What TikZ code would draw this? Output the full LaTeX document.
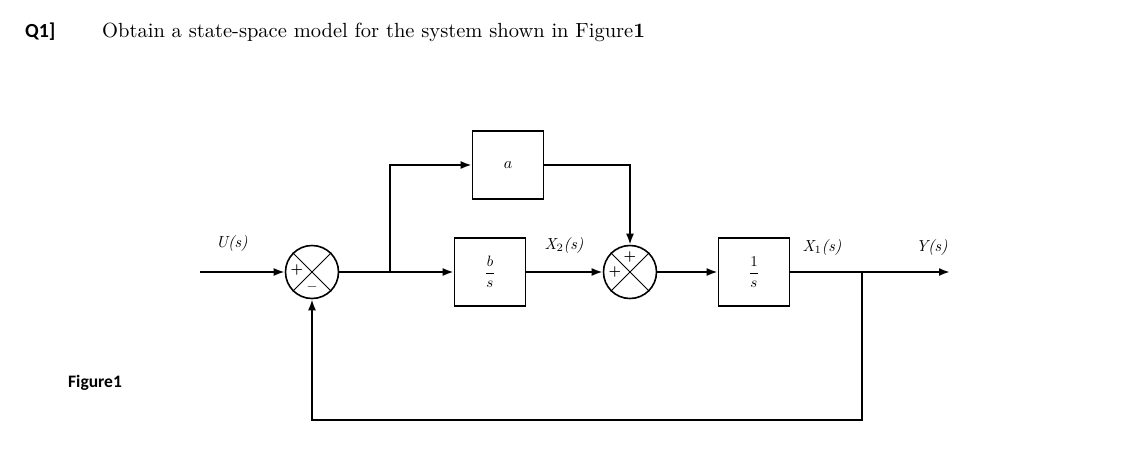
\documentclass[tikz,border=0pt]{standalone}
\usepackage{fontspec}
\newfontfamily\carlitofam{Carlito}
\usetikzlibrary{arrows.meta}
\begin{document}
\begin{tikzpicture}[x=1pt,y=-1pt,
  blk/.style={draw,line width=1.6pt,minimum width=71pt,minimum height=68pt,inner sep=0pt},
  sumc/.style={draw,circle,line width=1.6pt,minimum size=53pt,inner sep=0pt},
  wire/.style={line width=2pt},
  arr/.style={wire,-{Latex[length=11pt,width=8pt]}},
  lab/.style={font=\itshape,scale=1.6},
  sgn/.style={font=\bfseries,scale=1.4}]
\useasboundingbox (0,0) rectangle (1141,448);
\node[anchor=west,font=\carlitofam\bfseries,scale=2.0] (q) at (18,32) {Q1]};
\node[anchor=west,scale=2.05] (t) at (95,32) {Obtain a state-space model for the system shown in Figure\textbf{1}};
\node[anchor=west,font=\carlitofam\bfseries,scale=1.75] (f) at (62,383) {Figure1};
\node[sumc] (s1) at (312,272) {};
\draw[line width=0.8pt] (s1.north west)--(s1.south east) (s1.north east)--(s1.south west);
\node[sgn] at (297,270) {+};
\node[sgn] at (312,287) {$-$};
\node[sumc] (s2) at (630,272) {};
\draw[line width=0.8pt] (s2.north west)--(s2.south east) (s2.north east)--(s2.south west);
\node[sgn] at (615,272) {+};
\node[sgn] at (630,257) {+};
\node[blk] (a) at (508,165) {};
\node[scale=1.6] at (a) {$a$};
\node[blk] (b) at (490,272) {};
\node[scale=1.5] at (b) {$\displaystyle\frac{b}{s}$};
\node[blk] (c) at (754,272) {};
\node[scale=1.5] at (c) {$\displaystyle\frac{1}{s}$};
\coordinate (in) at (200,272);
\coordinate (br) at (390,272);
\coordinate (br2) at (862,272);
\coordinate (out) at (950,272);
\draw[arr] (in) -- (s1);
\draw[wire] (s1) -- (br);
\draw[arr] (br) -- (b);
\draw[arr] (br) |- (a);
\draw[arr] (a) -| (s2);
\draw[arr] (b) -- (s2);
\draw[arr] (s2) -- (c);
\draw[arr] (c) -- (out);
\draw[arr] (br2) -- (862,420) -| (s1);
\node[lab] (u) at (232,243) {U(s)};
\node[lab] (x2) at (564,245) {X$_2$(s)};
\node[lab] (x1) at (822,247) {X$_1$(s)};
\node[lab] (y) at (932,247) {Y(s)};
\end{tikzpicture}
\end{document}
